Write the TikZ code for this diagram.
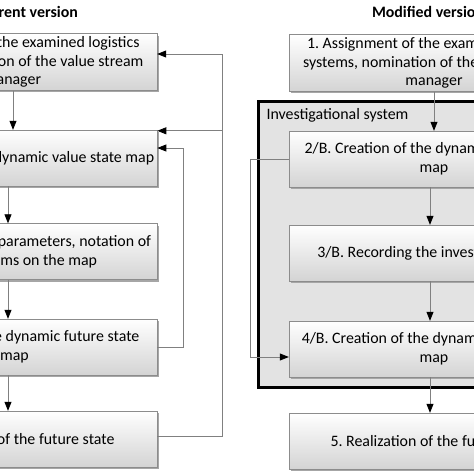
\documentclass[tikz,border=0pt]{standalone}
\usepackage{fontspec}
\setmainfont{Carlito}
\usetikzlibrary{arrows.meta, shadows}
\hyphenpenalty=10000
\frenchspacing

\tikzset{
  stepbox/.style={draw=black!45, top color=white, bottom color=black!17,
    inner sep=3pt, minimum height=56pt, minimum width=#1, align=center,
    drop shadow={shadow xshift=2pt, shadow yshift=-2pt, fill=black!35, opacity=1},
    font=\fontsize{15.9}{18.6}\selectfont},
  stepbox/.default=290pt,
  link/.style={draw=black!50, line width=0.8pt},
  arr/.style={link, -{Triangle[length=9pt, width=7pt, color=black]}},
  title/.style={font=\fontsize{15.9}{18.6}\selectfont\bfseries}
}

\begin{document}
\begin{tikzpicture}[x=1pt, y=-1pt]
  \useasboundingbox (0,0) rectangle (474,474);
  \clip (0,0) rectangle (474,474);

  % Заголовки
  \node[title] (curt) at (27,12) {Current version};
  \node[title] (modt) at (428,12) {Modified version};

  % Рамка исследуемой системы
  \draw[line width=3pt, fill=black!11] (258,101) rectangle (490,387);
  \node[anchor=west, font=\fontsize{15.9}{18.6}\selectfont] (syst) at (263,115) {Investigational system};

  % Текущая версия
  \node[stepbox=289pt] (b1) at (12.5,62) {1. Assignment of the examined logistics\\ systems, nomination of the value stream\\ manager};
  \node[stepbox=282pt] (b2) at (16,158) {2. Creation of the dynamic value state map};
  \node[stepbox=274pt] (b3) at (20,251.5) {3. Recording the parameters, notation of\\ the systems on the map};
  \node[stepbox=285pt] (b4) at (14.5,347) {4. Creation of the dynamic future state\\ map};
  \node[stepbox=292pt] (b5) at (11,439) {5. Realization of the future state};

  % Модифицированная версия
  \node[stepbox] (r1) at (434,63) {1. Assignment of the examined logistics\\ systems, nomination of the value stream\\ manager};
  \node[stepbox] (r2) at (434,159) {2/B. Creation of the dynamic value state\\ map};
  \node[stepbox] (r3) at (434,253) {3/B. Recording the investigated data};
  \node[stepbox] (r4) at (434,349) {4/B. Creation of the dynamic future state\\ map};
  \node[stepbox] (r5) at (434,441) {5. Realization of the future state};

  % Стрелки слева
  \coordinate (ax) at (13,0);
  \coordinate (bx) at (8,0);
  \draw[arr] (b1.south -| ax) -- (b2.north -| ax);
  \draw[arr] (b2.south -| bx) -- (b3.north -| bx);
  \draw[arr] (b3.south -| bx) -- (b4.north -| bx);
  \draw[arr] (b4.south -| bx) -- (b5.north -| bx);

  % Обратные связи слева
  \coordinate (lx) at (222,0);
  \coordinate (mx) at (183,0);
  \draw[arr] ([yshift=3pt]b5.east) -| ([yshift=8pt]b1.east -| lx) -- ([yshift=8pt]b1.east);
  \draw[arr] ([yshift=-1pt]b2.north east -| lx) -- ([yshift=-1pt]b2.north east);
  \draw[arr] (b4.east) -| ([yshift=10pt]b2.east -| mx) -- ([yshift=10pt]b2.east);

  % Стрелки справа
  \coordinate (cx) at (434,0);
  \coordinate (dx) at (430,0);
  \draw[arr] (r1.south -| cx) -- (r2.north -| cx);
  \draw[arr] (r2.south -| dx) -- (r3.north -| dx);
  \draw[arr] (r3.south -| dx) -- (r4.north -| dx);
  \draw[arr] (r4.south -| dx) -- (r5.north -| dx);

  % Обратная связь справа
  \coordinate (rx) at (250,0);
  \draw[arr] (r2.west) -| ([yshift=-8pt]r4.west -| rx) -- ([yshift=-8pt]r4.west);
\end{tikzpicture}
\end{document}
